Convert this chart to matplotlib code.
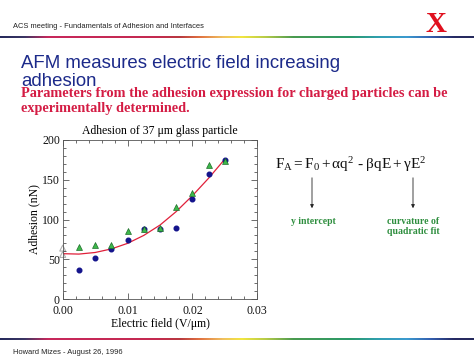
import numpy as np
import matplotlib
matplotlib.use('Agg')
import matplotlib.pyplot as plt
from matplotlib.colors import LinearSegmentedColormap
from matplotlib.ticker import MultipleLocator, FixedLocator

# Data
field = [0.0025, 0.005, 0.0075, 0.01, 0.0125, 0.015, 0.0175, 0.02, 0.0225, 0.025]
adhesion_circles = [36.5, 51, 62.5, 74, 88, 88.5, 89, 126, 157.5, 175]
adhesion_triangles = [65, 68, 68.5, 86, 88, 89, 116, 133, 169, 174]

# quadratic fit curve
fit_field = [0.0, 0.0025, 0.005, 0.0075, 0.01, 0.0125, 0.015, 0.0175, 0.02, 0.0225, 0.025]
fit_adhesion = [57, 56.5, 58.5, 63, 70, 80, 93, 110, 130, 152, 176]

# grey markers half hidden at E = 0
zero_field = [0.0, 0.0]
zero_adhesion = [64, 56]

x_ticks = [0.0, 0.01, 0.02, 0.03]
x_tick_labels = ['0.00', '0.01', '0.02', '0.03']

W, H = 474, 361
fig = plt.figure(figsize=(W / 100, H / 100), dpi=100)

def fx(px):
    return px / W

def fy(py):
    return 1 - py / H

# rainbow rules
rainbow = LinearSegmentedColormap.from_list('rb', [
    (0.00, '#262a5c'), (0.05, '#3a3664'), (0.10, '#c8285c'), (0.33, '#c42a50'),
    (0.38, '#b83a40'), (0.42, '#e07040'), (0.47, '#f0c060'), (0.51, '#f2e640'),
    (0.56, '#b8cc48'), (0.62, '#4a9a50'), (0.74, '#2a9a6a'), (0.80, '#30a0b0'),
    (0.86, '#3c9ad0'), (0.91, '#3460b0'), (0.96, '#262a64'), (1.00, '#262a5c')])
grad = np.linspace(0, 1, 256).reshape(1, -1)
for yline in (37, 339):
    rax = fig.add_axes([0, fy(yline + 1.2), 1, 2.4 / H])
    rax.imshow(grad, aspect='auto', cmap=rainbow)
    rax.axis('off')

# header / footer
fig.text(fx(13), fy(28), 'ACS meeting - Fundamentals of Adhesion and Interfaces',
         fontsize=5.45, family='Liberation Sans', color='#222222', va='baseline')
fig.text(fx(13), fy(354), 'Howard Mizes - August 26, 1996',
         fontsize=5.45, family='Liberation Sans', color='#222222', va='baseline')
fig.text(fx(435.5), fy(32), 'X', fontsize=21, family='Liberation Serif', weight='bold',
         color='#e0101e', ha='center', va='baseline')

# slide title and subtitle
fig.text(fx(21), fy(68), 'AFM measures electric field increasing',
         fontsize=13.4, family='Liberation Sans', color='#1c2a8a', va='baseline')
fig.text(fx(21), fy(86), 'adhesion',
         fontsize=13.4, family='Liberation Sans', color='#1c2a8a', va='baseline')
fig.text(fx(21), fy(97), 'Parameters from the adhesion expression for charged particles can be',
         fontsize=10.3, family='Liberation Serif', weight='bold', color='#d41c44', va='baseline')
fig.text(fx(21), fy(112), 'experimentally determined.',
         fontsize=10.3, family='Liberation Serif', weight='bold', color='#d41c44', va='baseline')

# chart
ax = fig.add_axes([fx(62.7), fy(299), fx(257.3) - fx(62.7), fy(140) - fy(299)])
ax.plot(fit_field, fit_adhesion, color='#e0203a', lw=0.9, zorder=2)
ax.scatter(zero_field, zero_adhesion, marker='^', s=18, facecolor='none',
           edgecolor='#b0b0b0', lw=0.8, clip_on=False, zorder=1)
ax.scatter(field, adhesion_circles, marker='o', s=11, color='#14148c', zorder=3)
ax.scatter(field, adhesion_triangles, marker='^', s=18, facecolor='#3cb84a',
           edgecolor='#1e6e2a', lw=0.5, zorder=4)
ax.set_xlim(0, 0.03)
ax.set_ylim(0, 200)
ax.xaxis.set_major_locator(FixedLocator(x_ticks))
ax.xaxis.set_minor_locator(MultipleLocator(0.002))
ax.yaxis.set_major_locator(MultipleLocator(50))
ax.yaxis.set_minor_locator(MultipleLocator(10))
ax.set_xticklabels(x_tick_labels)
ax.tick_params(which='both', direction='in', top=True, right=True, width=0.5,
               labelsize=8.5, pad=2, colors='#333333')
ax.tick_params(axis='x', pad=4)
ax.tick_params(which='major', length=4)
ax.tick_params(which='minor', length=2)
for lab in ax.get_xticklabels() + ax.get_yticklabels():
    lab.set_family('Liberation Serif')
    lab.set_color('#111111')
for s in ax.spines.values():
    s.set_linewidth(0.6)
    s.set_color('#555555')
ax.set_title('Adhesion of 37 μm glass particle', fontsize=8.5,
             family='Liberation Serif', pad=4)
ax.set_xlabel('Electric field (V/μm)', fontsize=8.5, family='Liberation Serif', labelpad=1)
ax.set_ylabel('Adhesion (nN)', fontsize=8.5, family='Liberation Serif', labelpad=1)

# equation and annotations
plt.rcParams['mathtext.fontset'] = 'custom'
plt.rcParams['mathtext.rm'] = 'Liberation Serif'
plt.rcParams['mathtext.it'] = 'Liberation Serif:italic'
fig.text(fx(275), fy(169), r'$\mathrm{F_A = F_0 + αq^2\ ‐\ βqE + γE^2}$',
         fontsize=11, color='#111111', va='baseline')
for xa in (312, 413):
    fig.add_artist(matplotlib.patches.FancyArrowPatch(
        (fx(xa), fy(175)), (fx(xa), fy(211)), transform=fig.transFigure,
        arrowstyle='-|>', mutation_scale=5, lw=0.6, color='#222222'))
fig.text(fx(313), fy(221), 'y intercept', fontsize=7, family='Liberation Serif',
         weight='bold', color='#2e8e3e', ha='center', va='center')
fig.text(fx(413), fy(226.5), 'curvature of\nquadratic fit', fontsize=7,
         family='Liberation Serif', weight='bold', color='#2e8e3e', ha='center',
         va='center', linespacing=1.15)

fig.savefig('out.png', dpi=100)
